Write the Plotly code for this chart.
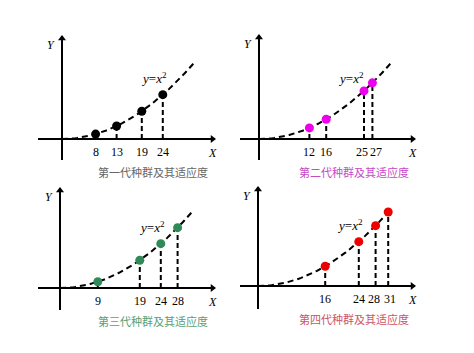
import numpy as np
import plotly.graph_objects as go

# ---- data ----
gen1_x = [8, 13, 19, 24]
gen2_x = [12, 16, 25, 27]
gen3_x = [9, 19, 24, 28]
gen4_x = [16, 24, 28, 31]
gen1_labels = ["8", "13", "19", "24"]
gen2_labels = ["12", "16", "25", "27"]
gen3_labels = ["9", "19", "24", "28"]
gen4_labels = ["16", "24", "28", "31"]
captions = ["第一代种群及其适应度", "第二代种群及其适应度", "第三代种群及其适应度", "第四代种群及其适应度"]
curve_end = [31.5, 31.5, 31.5, 30]

# ---- styles / layout (pixels) ----
W, H = 474, 353
marker_colors = ["#000000", "#ee00ee", "#2e8b57", "#ee0000"]
caption_colors = ["#666666", "#c848c8", "#5a9e74", "#cc5468"]
# label pixel nudges to keep close tick labels readable
label_nudge = [[0, 0, 0, 0], [0, 0, -2, 4], [0, 0, 0, 0], [0, 0, -2, 2]]
# origin px, x-axis span px, y-axis span px
panels = [
    dict(o=(62, 139), xs=(38, 215), ys=(36, 160)),
    dict(o=(259, 139), xs=(240, 415), ys=(35, 160)),
    dict(o=(60, 288), xs=(38, 215), ys=(188, 310)),
    dict(o=(258, 286), xs=(240, 415), ys=(187, 309)),
]
SX, SY = 4.2, 0.077  # px per unit

def px2paper_x(px):
    return px / W

def px2paper_y(py):
    return 1 - py / H

SERIF = "Liberation Serif"
CJK = "Noto Sans CJK SC"

fig = go.Figure()
annotations = []
all_x = [gen1_x, gen2_x, gen3_x, gen4_x]
all_labels = [gen1_labels, gen2_labels, gen3_labels, gen4_labels]

for i, (p, xs) in enumerate(zip(panels, all_x)):
    n = i + 1
    xa = "x" if n == 1 else f"x{n}"
    ya = "y" if n == 1 else f"y{n}"
    ox, oy = p["o"]
    xmin = -(ox - p["xs"][0]) / SX
    xmax = (p["xs"][1] - ox) / SX
    ymax = (oy - p["ys"][0]) / SY
    ymin = -(p["ys"][1] - oy) / SY

    # curve y = x^2
    cx = np.linspace(0, curve_end[i], 80)
    fig.add_trace(go.Scatter(x=cx, y=cx ** 2, mode="lines", xaxis=xa, yaxis=ya,
                             line=dict(color="black", width=2, dash="6px,4px"),
                             hoverinfo="skip", showlegend=False))
    # drop lines
    vx, vy = [], []
    for v in xs:
        vx += [v, v, None]
        vy += [0, v ** 2, None]
    fig.add_trace(go.Scatter(x=vx, y=vy, mode="lines", xaxis=xa, yaxis=ya,
                             line=dict(color="black", width=2, dash="5px,3px"),
                             hoverinfo="skip", showlegend=False))
    # points
    fig.add_trace(go.Scatter(x=xs, y=[v ** 2 for v in xs], mode="markers", xaxis=xa, yaxis=ya,
                             marker=dict(color=marker_colors[i], size=9),
                             showlegend=False))
    # axis arrowheads
    fig.add_trace(go.Scatter(x=[xmax - 2.5 / SX, 0], y=[0, ymax - 2.5 / SY], mode="markers",
                             xaxis=xa, yaxis=ya, cliponaxis=False,
                             marker=dict(symbol=["triangle-right", "triangle-up"], size=7,
                                         color="black"),
                             hoverinfo="skip", showlegend=False))

    xkey = "xaxis" if n == 1 else f"xaxis{n}"
    ykey = "yaxis" if n == 1 else f"yaxis{n}"
    fig.update_layout(**{
        xkey: dict(domain=[px2paper_x(p["xs"][0]), px2paper_x(p["xs"][1])],
                   range=[xmin, xmax], anchor="free", position=px2paper_y(oy),
                   showgrid=False, zeroline=False, showline=True, linecolor="black", linewidth=2,
                   showticklabels=False, ticks=""),
        ykey: dict(domain=[px2paper_y(p["ys"][1]), px2paper_y(p["ys"][0])],
                   range=[ymin, ymax], anchor="free", position=px2paper_x(ox),
                   showgrid=False, zeroline=False, showline=True, linecolor="black", linewidth=2,
                   showticklabels=False, ticks=""),
    })
    # tick labels
    for v, lab, dx in zip(xs, all_labels[i], label_nudge[i]):
        annotations.append(dict(x=v, y=0, xref=xa, yref=ya, text=lab, showarrow=False,
                                xanchor="center", yanchor="middle", xshift=dx, yshift=-13,
                                font=dict(family=SERIF, size=12, color="black")))
    # axis names
    annotations.append(dict(x=xmax, y=0, xref=xa, yref=ya, text="<i>X</i>", showarrow=False,
                            xanchor="center", yanchor="middle", xshift=-3, yshift=-14,
                            font=dict(family=SERIF, size=12, color="black")))
    annotations.append(dict(x=0, y=ymax, xref=xa, yref=ya, text="<i>Y</i>", showarrow=False,
                            xanchor="center", yanchor="middle", xshift=-11, yshift=-9,
                            font=dict(family=SERIF, size=12, color="black")))
    # equation label
    annotations.append(dict(x=22, y=790, xref=xa, yref=ya, text="<i>y</i>=<i>x</i><sup>2</sup>",
                            showarrow=False, xanchor="center", yanchor="middle",
                            font=dict(family=SERIF, size=13, color="black")))
    # caption
    annotations.append(dict(x=px2paper_x((p["xs"][0] + p["xs"][1]) / 2 + 26), y=px2paper_y(oy + 33),
                            xref="paper", yref="paper", text=captions[i], showarrow=False,
                            xanchor="center", yanchor="middle",
                            font=dict(family=CJK, size=11, color=caption_colors[i])))

fig.update_layout(width=W, height=H, margin=dict(l=0, r=0, t=0, b=0),
                  paper_bgcolor="white", plot_bgcolor="white",
                  annotations=annotations, showlegend=False)
fig.write_html("out.html")
